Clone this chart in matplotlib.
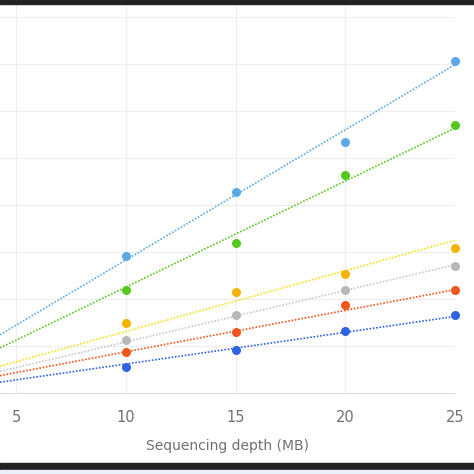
import matplotlib
matplotlib.use("Agg")
import matplotlib.pyplot as plt
import numpy as np
from matplotlib.patches import Rectangle

depth = [10, 15, 20, 25]
s_lightblue = [2.92, 4.27, 5.35, 7.07]
s_green = [2.20, 3.19, 4.65, 5.71]
s_yellow = [1.48, 2.15, 2.53, 3.09]
s_gray = [1.13, 1.65, 2.20, 2.71]
s_orange = [0.87, 1.30, 1.87, 2.19]
s_blue = [0.55, 0.92, 1.33, 1.65]
# trendline values at left edge and at depth 25
trend_start = [1.24, 0.96, 0.57, 0.46, 0.37, 0.23]
trend_end = [6.99, 5.64, 3.25, 2.73, 2.20, 1.63]
series = [(s_lightblue, "#5aa9e6"), (s_green, "#55c81e"), (s_yellow, "#f4b400"),
          (s_gray, "#b8b8b8"), (s_orange, "#f0561b"), (s_blue, "#2e63e0")]
line_colors = ["#5aa9e6", "#55c81e", "#f5e11c", "#c8c8c8", "#f0561b", "#2e63e0"]
xticks = [5, 10, 15, 20, 25]

fig = plt.figure(figsize=(4.74, 4.74), dpi=100)
W = H = 474
ax = fig.add_axes([0, 1 - 393 / H, 455 / W, (393 - 5) / H])
xmin = 4.27
ax.set_xlim(xmin, 25.0)
ax.set_ylim(0, 8.26)
for (vals, c), lc, y0, y1 in zip(series, line_colors, trend_start, trend_end):
    ax.plot([xmin, 25], [y0, y1], ls=(0, (1, 1)), color=lc, lw=1.2, clip_on=False)
    ax.scatter(depth, vals, s=30, color=c, zorder=3, clip_on=False)
ax.set_yticks(np.arange(1, 9))
ax.set_yticklabels([])
ax.tick_params(axis='y', length=0)
ax.set_xticks(xticks)
ax.set_xticklabels([str(t) for t in xticks])
ax.tick_params(axis='x', length=0, labelsize=10.5, labelcolor="#707070", pad=12)
ax.grid(True, color="#eeeeee", lw=0.8)
ax.set_axisbelow(True)
for sp in ["top", "left", "right"]:
    ax.spines[sp].set_visible(False)
ax.spines["bottom"].set_color("#e0e0e0")
ax.set_xlabel("Sequencing depth (MB)", fontsize=10, color="#707070", labelpad=10)
fig.patches.append(Rectangle((0, 1 - 4 / H), 1, 4 / H, transform=fig.transFigure, color="#222222"))
fig.patches.append(Rectangle((0, 1 - 470 / H), 1, 7 / H, transform=fig.transFigure, color="#222222"))
fig.patches.append(Rectangle((0, 0), 1, 4 / H, transform=fig.transFigure, color="#eaf0f8"))
fig.savefig("out.png", dpi=100)
